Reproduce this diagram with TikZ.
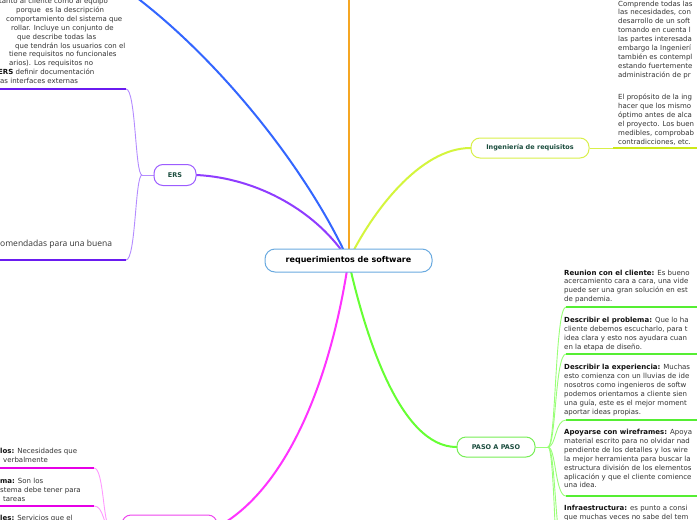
\documentclass[tikz,border=0pt]{standalone}
\usepackage{fontspec}
\setmainfont{DejaVu Sans}
\newfontfamily\osans{Open Sans}
\usetikzlibrary{backgrounds}
\definecolor{cblue}{HTML}{6AAAE0}
\definecolor{corange}{HTML}{F5A623}
\definecolor{cbluel}{HTML}{3366FF}
\definecolor{cpurl}{HTML}{8F3CFF}
\definecolor{cpurb}{HTML}{9C5CFF}
\definecolor{cpuru}{HTML}{6A1BF0}
\definecolor{cpurk}{HTML}{B48CFF}
\definecolor{cyell}{HTML}{D4F53C}
\definecolor{cyelb}{HTML}{D9F04A}
\definecolor{cyelu}{HTML}{CCE81A}
\definecolor{cgrnl}{HTML}{66FF33}
\definecolor{cgrnb}{HTML}{77EE55}
\definecolor{cgrnu}{HTML}{55EE33}
\definecolor{cgrnk}{HTML}{99FF77}
\definecolor{cmagl}{HTML}{FF33FF}
\definecolor{cmagb}{HTML}{EE44EE}
\definecolor{cmagu}{HTML}{E600E6}
\definecolor{cmagk}{HTML}{FF99FF}
\definecolor{tgreen}{HTML}{1B4D3E}
\definecolor{tgray}{HTML}{333333}
\definecolor{tblack}{HTML}{111111}
\newcommand{\bk}[1]{\textbf{\color{tblack}#1}}
\newcommand{\blk}[1]{\parbox[t]{300pt}{\fontsize{7}{8.9}\selectfont\raggedright #1}}
\begin{document}
\begin{tikzpicture}[x=1pt,y=-1pt,
  mainbr/.style={line width=2pt},
  brk/.style={line width=0.9pt},
  uline/.style={line width=1.9pt},
  topic/.style={draw, rounded corners=9pt, fill=white, line width=1pt,
    font=\fontsize{6.5}{8}\selectfont\bfseries, text=tgreen, inner sep=0pt},
  txt/.style={anchor=base west, inner sep=0pt, text=tgray,
    font=\fontsize{7}{8.9}\selectfont},
]
\useasboundingbox (0,0) rectangle (697,520);

% topic nodes
\node[topic, draw=cblue, minimum width=167pt, minimum height=23pt, rounded corners=10pt,
  text=black, font=\fontsize{8}{10}\selectfont\bfseries] (c) at (348.5,260.5) {requerimientos de software};
\node[topic, draw=cpurb, minimum width=42pt, minimum height=21pt] (ers) at (175,175) {ERS};
\node[topic, draw=cyelb, minimum width=118pt, minimum height=20pt] (ing) at (530,148) {Ingeniería de requisitos};
\node[topic, draw=cgrnb, minimum width=78pt, minimum height=20pt] (paso) at (496,447) {PASO A PASO};
\node[topic, draw=cmagb, minimum width=95pt, minimum height=24pt] (pink) at (169.5,527) {};

% free ends
\coordinate (otop) at (348.5,-5);
\coordinate (btop) at (136,-3);
\coordinate (ersr) at (142,175);
\coordinate (ingr) at (613,148);
\coordinate (pr) at (548,447);
\coordinate (pkr) at (110,527);

% texts: top left (ERS item)
\node[txt] (tl1) at (-1,3.5) {tanto al cliente como al equipo};
\node[txt] (tl2) at (16,12.4) {porque \ es la descripción};
\node[txt] (tl3) at (6,21.3) {comportamiento del sistema que};
\node[txt] (tl4) at (11,30.2) {rollar. Incluye un conjunto de};
\node[txt] (tl5) at (17,39.1) {que describe todas las};
\node[txt] (tl6) at (15,48) {que tendrán los usuarios con el};
\node[txt] (tl7) at (9,56.9) {tiene requisitos no funcionales};
\node[txt] (tl8) at (9,65.8) {arios). Los requisitos no};
\node[txt] (tl9) at (-2,74.7) {\bk{ERS} definir documentación};
\node[txt] (tl10) at (0,83.6) {as interfaces externas};
\node[txt, font=\osans\fontsize{8.5}{10}\selectfont] (tl11) at (0,246) {omendadas para una buena};

% texts: top right (Ingenieria)
\node[txt] (ir1) at (618,6) {\blk{Comprende todas las\\las necesidades, con\\desarrollo de un soft\\tomando en cuenta l\\las partes interesada\\embargo la Ingenierí\\también es contempl\\estando fuertemente\\administración de pr}};
\node[txt] (ir2) at (618,99.5) {\blk{El propósito de la ing\\hacer que los mismo\\óptimo antes de alca\\el proyecto. Los buen\\medibles, comprobab\\contradicciones, etc.}};

% texts: PASO A PASO
\node[txt] (p1) at (564,275) {\blk{\bk{Reunion con el cliente:} Es bueno\\acercamiento cara a cara, una vide\\puede ser una gran solución en est\\de pandemia.}};
\node[txt] (p2) at (564,322.5) {\blk{\bk{Describir el problema:} Que lo ha\\cliente debemos escucharlo, para t\\idea clara y esto nos ayudara cuan\\en la etapa de diseño.}};
\node[txt] (p3) at (564,369.5) {\blk{\bk{Describir la experiencia:} Muchas\\esto comienza con un lluvias de ide\\nosotros como ingenieros de softw\\podemos orientamos a cliente sien\\una guía, este es el mejor moment\\aportar ideas propias.}};
\node[txt] (p4) at (564,434.5) {\blk{\bk{Apoyarse con wireframes:} Apoya\\material escrito para no olvidar nad\\pendiente de los detalles y los wire\\la mejor herramienta para buscar la\\estructura división de los elementos\\aplicación y que el cliente comience\\una idea.}};
\node[txt] (p5) at (564,510.5) {\blk{\bk{Infraestructura:} es punto a consi\\que muchas veces no sabe del tem}};

% texts: bottom left (pink)
\node[txt] (k1) at (0,453.5) {\bk{los:} Necesidades que};
\node[txt] (k2) at (3,462.4) {verbalmente};
\node[txt] (k3) at (0,483.5) {\bk{ma:} Son los};
\node[txt] (k4) at (0,492.4) {stema debe tener para};
\node[txt] (k5) at (3,501.3) {tareas};
\node[txt] (k6) at (0,520.5) {\bk{les:} Servicios que el};

\begin{scope}[on background layer]
  \fill[white] (0,0) rectangle (697,520);
  % main branches
  \draw[mainbr, corange] (otop) -- (c.center);
  \draw[mainbr, cbluel] (btop) .. controls (225,65) and (310,175) .. (c.center);
  \draw[mainbr, cpurl] (ers.center) -- (ers.east) .. controls (258,178) and (318,212) .. (c.center);
  \draw[mainbr, cyell] (c.center) .. controls (372,212) and (420,148) .. (ing.west) -- (ing.center);
  \draw[mainbr, cgrnl] (c.center) .. controls (365,335) and (400,447) .. (paso.west) -- (paso.center);
  \draw[mainbr, cmagl] (c.center) .. controls (330,385) and (285,490) .. (pink.east) -- (pink.center);

  % ERS sub-branches
  \draw[brk, cpurk] (ers.west) -- (ersr);
  \draw[brk, cpurk] (ersr) .. controls (135,175) and (136,89) .. (126,89);
  \draw[brk, cpurk] (ersr) .. controls (135,175) and (136,260) .. (126,260);
  \draw[uline, cpuru] (126,89) -- (-5,89);
  \draw[uline, cpuru] (126,260) -- (-5,260);

  % Ingenieria sub-branch
  \draw[brk, cyelb] (ing.east) -- (ingr);
  \draw[uline, cyelu] (ingr) -- (705,148);

  % PASO A PASO sub-branches
  \draw[brk, cgrnk] (paso.east) -- (pr);
  \foreach \yy in {307,354,420,496,560,640} {
    \draw[brk, cgrnk] (pr) .. controls (556,447) and (555,\yy) .. (566,\yy);
    \draw[uline, cgrnu] (566,\yy) -- (705,\yy);
  }

  % pink sub-branches
  \draw[brk, cmagk] (pink.west) -- (pkr);
  \foreach \yy in {468,506,560} {
    \draw[brk, cmagk] (pkr) .. controls (103,527) and (104,\yy) .. (94,\yy);
    \draw[uline, cmagu] (94,\yy) -- (-5,\yy);
  }
\end{scope}
\end{tikzpicture}
\end{document}
